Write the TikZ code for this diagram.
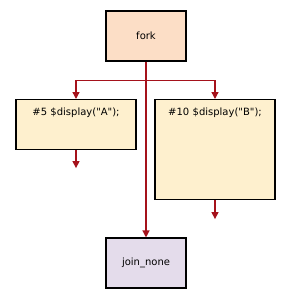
\documentclass[tikz,border=0pt]{standalone}
\usepackage{fontspec}
\setmainfont{DejaVu Sans}[Ligatures=TeXOff]
\usetikzlibrary{arrows.meta,positioning}
\definecolor{forkpeach} {RGB}{252,222,198}
\definecolor{procyellow}{RGB}{254,240,206}
\definecolor{joinlilac} {RGB}{228,220,235}
\definecolor{flowred}   {RGB}{165,18,27}

\begin{document}
\begin{tikzpicture}[
  >={Triangle[width=7pt,length=7pt]},
  ctrl/.style ={draw,line width=1.1pt,minimum width=80pt,minimum height=50pt,
                font=\fontsize{10}{12}\selectfont,inner sep=0pt},
  proc/.style ={draw,line width=1.1pt,fill=procyellow,text width=112pt,
                align=center,font=\fontsize{10}{12}\selectfont,
                inner xsep=4pt,inner ysep=6pt,text height=10pt},
  arr/.style  ={->,flowred,line width=1.3pt},
]
\useasboundingbox (0,0) rectangle (285pt,-300pt);

%% -- control blocks
\node[ctrl,fill=forkpeach] (fork) at (146pt,-36pt)  {fork};
\node[ctrl,fill=joinlilac] (join) at (146pt,-263pt) {join\_none};

%% -- the two parallel processes
\node[proc,text depth=28pt,anchor=north] (procA) at (76pt,-99pt)
  {\#5 \$display("A");};
\node[proc,text depth=78pt,anchor=north] (procB) at (215pt,-99pt)
  {\#10 \$display("B");};

%% -- fork branches
\coordinate (split) at ([yshift=-19pt]fork.south);
\draw[arr] (fork.south) -- (join.north);
\draw[arr] (split) -| (procA.north);
\draw[arr] (split) -| (procB.north);

%% -- processes continue
\coordinate (contA) at ([yshift=-18pt]procA.south);
\coordinate (contB) at ([yshift=-19pt]procB.south);
\draw[arr] (procA.south) -- (contA);
\draw[arr] (procB.south) -- (contB);

\end{tikzpicture}
\end{document}
